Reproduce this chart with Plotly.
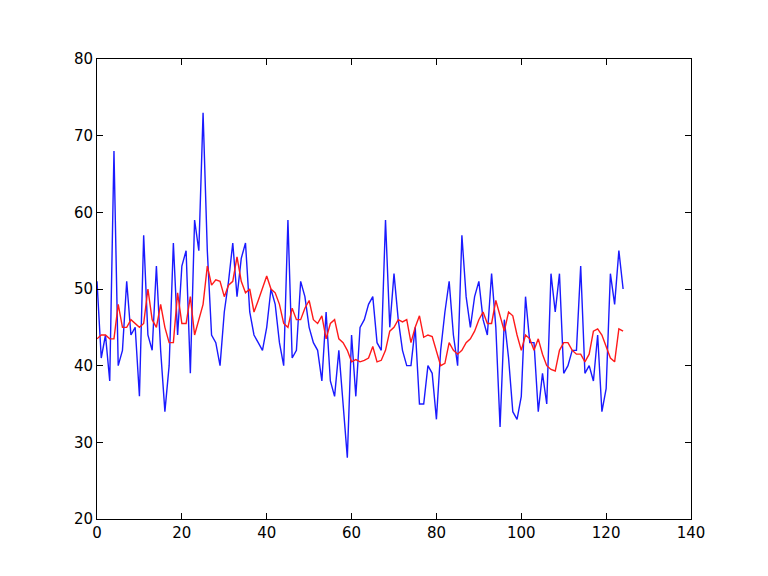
import plotly.graph_objects as go

blue = [51,41,44,38,68,40,42,51,44,45,36,57,44,42,53,42,34,40,56,44,
        53,55,39,59,55,73,55,44,43,40,47,51,56,49,54,56,47,44,43,42,
        45,50,48,43,40,59,41,42,51,49,45,43,42,38,47,38,36,42,35,28,
        44,36,45,46,48,49,43,42,59,45,52,46,42,40,40,45,35,35,40,39,
        33,42,47,51,44,40,57,49,45,49,51,46,44,52,45,32,46,41,34,33,
        36,49,43,43,34,39,35,52,47,52,39,40,42,42,53,39,40,38,44,34,
        37,52,48,55,50]
red = [43.5,44,44,43.5,43.5,48,45,45,46,45.5,45,45.5,50,46,45,48,45,43,43,49.5,
       45.5,45.5,49,44,46,48,53,50.5,51.2,51,49,50.5,51,54.2,51,49.5,50,47,48.5,50,
       51.7,50,49.5,48,45.5,45,47.5,46,46,47.5,48.5,46,45.5,46.5,43.5,45.5,46,43.5,43,42,
       40.5,40.8,40.5,40.7,41,42.5,40.5,40.7,42,44.5,45,46,45.7,46,43,45,46.5,43.7,44,43.8,
       42,40,40.3,43,42,41.5,42,43,43.5,44.5,46,47,45.5,45.5,48.5,46.5,44.5,47,46.5,44,
       42,44,43.5,42,43.5,41.5,40,39.5,39.3,42,43,43,42,41.5,41.5,40.5,41.5,44.5,44.8,44,
       42.5,41,40.5,44.8,44.5]
x = list(range(len(blue)))

fig = go.Figure()
fig.add_trace(go.Scatter(x=x, y=blue, mode="lines", line=dict(color="#1a1aff", width=1.4)))
fig.add_trace(go.Scatter(x=x[:len(red)], y=red, mode="lines", line=dict(color="#ff1a1a", width=1.4)))
ax = dict(showgrid=False, zeroline=False, showline=True, mirror="ticks", linecolor="black",
          linewidth=1, ticks="inside", ticklen=6, tickcolor="black")
fig.update_layout(
    width=768, height=576, showlegend=False, plot_bgcolor="white", paper_bgcolor="white",
    margin=dict(l=89, r=85, t=51, b=65),
    font=dict(family="DejaVu Sans", size=15, color="black"),
    xaxis=dict(range=[0, 140], dtick=20, **ax),
    yaxis=dict(range=[20, 80], dtick=10, **ax),
)
fig.write_html("out.html")
